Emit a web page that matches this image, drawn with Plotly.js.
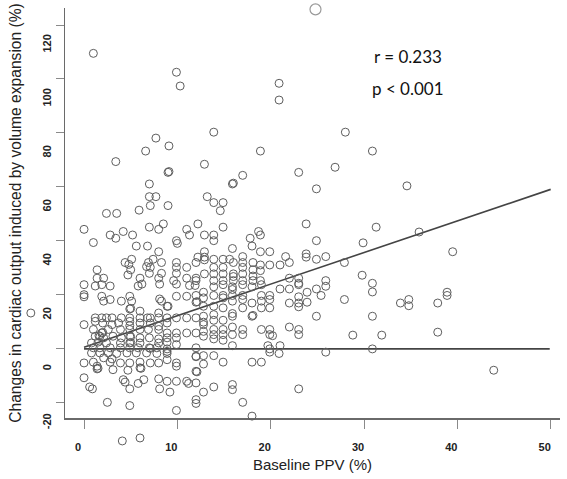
<!DOCTYPE html>
<html>
<head>
<meta charset="utf-8">
<script src="https://cdn.plot.ly/plotly-3.0.1.min.js"></script>
<style>html,body{margin:0;padding:0;background:#fff;}#chart{width:567px;height:479px;}</style>
</head>
<body>
<div id="chart"></div>
<script>
// Baseline PPV (%) values of the patients
const ppv = [
  1.0,9.9,10.3,7.7,9.1,6.6,13.9,20.9,20.9,28.0,18.9,30.9,
  3.4,9.0,9.1,7.0,7.0,7.7,7.1,9.0,2.4,3.5,5.9,12.2,0.0,7.0,8.0,8.5,11.0,11.3,1.0,2.8,3.4,4.2,5.2,9.9,10.0,5.6,6.8,8.0,4.4,5.1,4.8,6.9,7.4,8.3,9.9,12.0,12.2,6.7,7.1,9.9,11.0,1.4,5.0,7.0,8.3,9.9,4.7,1.4,2.1,6.0,8.0,11.0,12.0,12.0,9.6,
  12.9,17.0,23.0,26.9,15.9,16.0,24.9,13.2,13.9,14.9,14.6,14.9,23.8,12.9,13.9,13.9,18.7,18.9,17.8,24.9,18.0,15.9,18.9,19.9,12.9,12.9,12.9,13.9,14.9,15.6,17.0,16.0,17.0,18.1,18.9,19.9,21.0,21.6,22.0,23.8,23.8,24.9,25.9,13.9,14.9,17.0,18.1,18.9,12.9,13.9,14.9,16.0,17.0,18.1,16.0,13.9,14.9,16.0,17.0,18.1,18.9,22.0,23.0,23.0,25.9,
  34.6,31.3,35.9,29.9,39.5,27.9,29.8,30.9,
  30.9,27.9,33.9,34.8,34.8,37.9,38.9,38.9,30.9,28.8,31.9,37.9,30.9,43.9,
  13.9,14.9,15.9,17.0,18.0,19.0,21.0,22.0,23.0,24.9,25.9,12.8,12.8,13.9,14.9,14.9,15.9,15.9,15.9,17.0,17.0,18.0,19.0,19.0,19.9,19.9,23.0,23.0,23.0,23.9,23.9,25.4,13.9,14.9,17.0,19.0,19.9,22.0,12.8,13.9,15.9,15.9,18.0,18.1,12.8,24.9,12.8,12.8,13.9,14.9,13.9,14.9,15.9,17.0,19.0,19.9,22.0,23.0,12.8,12.8,13.9,13.9,14.9,14.9,15.9,17.0,19.9,20.2,23.0,15.9,19.7,21.0,19.9,19.9,20.9,25.9,12.8,13.9,12.8,14.9,18.0,19.0,12.8,13.9,15.9,15.9,23.0,17.0,18.0,
  0.0,1.2,1.9,2.8,5.8,6.2,8.1,9.9,11.3,11.9,
  0.0,0.0,1.9,2.8,4.9,8.1,9.9,11.0,12.0,
  2.1,4.0,5.1,8.3,9.0,12.0,12.1,
  4.9,5.0,6.0,8.0,8.9,
  1.2,1.9,2.4,3.0,4.0,4.9,6.0,6.8,7.1,8.0,8.9,9.9,11.0,12.0,
  0.0,1.2,2.0,3.0,3.7,4.9,4.9,6.0,7.1,8.0,8.9,
  1.0,1.9,2.0,2.6,3.9,4.9,6.0,6.9,8.0,8.9,9.9,11.0,12.0,
  1.2,1.6,1.7,2.1,3.1,4.0,4.9,5.0,6.0,7.0,8.0,8.9,9.9,
  0.8,1.5,2.4,3.9,4.9,5.0,6.0,8.0,8.9,9.9,
  1.0,1.7,2.8,3.9,4.9,5.8,7.0,7.1,7.8,8.9,8.9,8.9,12.0,
  0.8,1.7,2.6,3.5,4.6,5.6,6.7,7.8,
  0.0,1.0,1.4,1.4,1.5,2.1,2.8,3.0,3.9,4.9,6.0,6.0,6.1,7.1,8.0,8.9,9.9,9.9,12.0,12.0,
  4.7,3.1,12.0,12.1,
  0.0,0.6,0.9,4.2,4.4,5.8,6.4,4.9,8.0,8.1,8.9,9.9,11.0,11.2,12.0,9.2,
  2.5,4.9,12.0,12.0,9.9,
  4.1,6.0,-5.7
];
// Change in cardiac output induced by volume expansion (%)
const coChange = [
  109.5,102.5,97.4,78.1,75.2,73.3,80.3,98.4,92.2,80.3,73.3,73.3,
  69.4,65.4,65.7,61.1,56.4,56.4,53.1,53.1,50.2,50.2,51.4,46.3,44.3,45.1,44.3,46.3,44.3,42.2,39.4,42.2,41.0,43.5,42.2,40.1,39.1,38.1,38.1,36.0,32.0,33.2,31.3,32.0,33.2,32.0,32.0,32.0,34.0,30.5,30.2,30.2,30.2,29.3,29.3,28.0,28.0,28.0,27.4,26.2,26.2,26.2,26.2,26.2,26.2,25.3,25.3,
  68.4,64.3,65.4,67.3,61.1,61.4,59.3,56.4,54.2,54.2,51.2,45.1,46.3,42.2,42.2,40.1,43.5,42.2,41.0,40.1,38.1,37.2,36.0,36.0,36.0,34.0,33.0,33.2,33.2,33.2,34.2,32.0,32.0,32.0,31.1,31.1,31.1,34.2,32.0,35.2,34.0,33.2,34.2,30.2,30.2,30.2,29.3,29.0,27.8,27.8,27.8,27.8,27.8,27.0,26.8,25.3,25.3,25.3,25.3,25.3,25.3,26.2,26.2,24.3,25.3,
  60.4,45.1,43.3,39.3,36.0,32.0,27.3,24.3,
  21.1,18.3,17.0,18.3,16.0,17.0,21.0,19.8,12.1,5.1,5.1,6.2,0.0,-7.9,
  23.0,23.8,23.0,23.8,23.0,23.8,22.2,22.2,23.8,22.2,23.2,21.0,18.9,19.8,19.8,18.9,22.0,19.8,17.7,19.8,18.3,17.0,19.8,17.7,19.8,18.3,19.3,17.0,15.6,21.0,17.3,19.8,15.8,15.2,15.2,15.2,15.2,17.0,15.8,12.7,13.1,12.1,12.1,12.4,12.1,12.1,9.9,9.0,10.6,10.6,7.2,7.2,8.1,7.2,7.2,7.2,8.1,7.2,6.5,4.7,5.3,3.7,5.3,3.2,5.3,5.3,5.3,4.9,5.3,1.2,1.2,1.2,0.0,-1.2,-1.7,-1.2,-2.5,-2.5,-5.6,-4.9,-4.9,-4.9,-16.0,-14.1,-13.2,-15.1,-14.8,-19.8,-24.9,
  23.8,23.3,23.8,23.3,23.3,24.0,24.0,24.0,23.5,23.5,
  20.1,19.3,19.5,18.3,19.5,18.5,19.5,19.5,19.8,
  17.7,17.7,17.7,17.7,15.8,17.3,17.5,
  14.8,15.0,14.0,13.3,15.8,
  11.5,11.5,11.5,11.5,11.5,11.5,11.5,11.5,11.5,11.5,11.5,11.5,11.5,11.5,
  9.0,10.2,9.6,9.0,9.6,10.2,8.6,9.6,9.6,8.4,9.6,
  7.2,5.9,6.1,7.2,7.2,7.2,7.2,7.2,7.2,5.9,5.9,5.9,5.9,
  4.7,4.9,4.6,4.1,4.7,4.1,4.7,4.5,4.1,4.1,3.7,4.1,4.1,
  2.2,2.5,2.2,2.2,2.2,2.4,2.2,2.2,2.5,1.6,
  0.4,0.4,0.4,0.4,0.4,0.4,0.4,0.2,0.4,0.0,-0.9,-1.7,0.4,
  -1.5,-1.5,-1.5,-1.7,-1.5,-1.5,-1.5,-1.7,
  -5.2,-4.9,-6.4,-7.4,-7.2,-3.3,-4.9,-3.7,-5.2,-5.2,-4.9,-7.0,-7.2,-5.2,-5.2,-4.0,-5.2,-6.4,-2.7,-2.9,
  -7.9,-7.7,-8.3,-8.5,
  -10.7,-14.1,-14.8,-11.4,-12.3,-12.8,-11.4,-14.8,-11.1,-14.8,-12.0,-12.0,-12.0,-12.8,-12.6,-16.0,
  -19.8,-21.0,-18.8,-20.2,-22.8,
  -34.1,-33.0,13.3
];
// faint larger circle at the top of the plot
const ppvFaint = [24.8];
const coFaint = [125.8];

const fitIntercept = 0.6;
const fitSlope = 1.17;
const fitRangeX = [0, 50];
const zeroLineX = [0, 49.9];
const zeroLineY = [0, 0];

const xTicks = [0, 10, 20, 30, 40, 50];
const yTicks = [-20, 0, 20, 40, 60, 80, 100, 120];
const statsText = ["r = 0.233", "p < 0.001"];
const statsPos = {x: 34.7, y: [108.5, 96.3]};

// ---- geometry: drawn axes sit inside a wider, invisible data frame so that
// the few points lying outside the axes (as in the original) remain visible
const W = 567, H = 479;
const margin = {l: 20, r: 7, t: 2, b: 30};
const pw = W - margin.l - margin.r, ph = H - margin.t - margin.b;
const xRange = [-2.04, 51.0], yRange = [-25.6, 126.3];
const xDom = [45 / pw, 1];
const yDom = [31 / ph, (ph - 6) / ph];
const sx = (xRange[1] - xRange[0]) / ((xDom[1] - xDom[0]) * pw);
const sy = (yRange[1] - yRange[0]) / ((yDom[1] - yDom[0]) * ph);
const x2Range = [xRange[0] - xDom[0] * pw * sx, xRange[1] + (1 - xDom[1]) * pw * sx];
const y2Range = [yRange[0] - yDom[0] * ph * sy, yRange[1] + (1 - yDom[1]) * ph * sy];

const grey = '#5e5e5e';
const traces = [
  {x: zeroLineX, y: zeroLineY, xaxis: 'x', yaxis: 'y', type: 'scatter', mode: 'lines',
   line: {color: '#444', width: 1.6}, hoverinfo: 'skip'},
  {x: fitRangeX, y: fitRangeX.map(v => fitIntercept + fitSlope * v), xaxis: 'x', yaxis: 'y',
   type: 'scatter', mode: 'lines', line: {color: '#444', width: 1.6}, hoverinfo: 'skip'},
  {x: ppv, y: coChange, xaxis: 'x2', yaxis: 'y2', type: 'scatter', mode: 'markers', cliponaxis: false,
   marker: {symbol: 'circle-open', size: 8, color: grey, line: {width: 1, color: grey}}, hoverinfo: 'skip'},
  {x: ppvFaint, y: coFaint, xaxis: 'x2', yaxis: 'y2', type: 'scatter', mode: 'markers', cliponaxis: false,
   marker: {symbol: 'circle-open', size: 11, color: '#9a9a9a', line: {width: 1.2, color: '#9a9a9a'}}, hoverinfo: 'skip'}
];

const tickFont = {family: 'Liberation Sans, Arial, sans-serif', size: 11, color: '#222', weight: 'bold'};
const titleFont = {family: 'Liberation Sans, Arial, sans-serif', size: 15, color: '#222'};

const layout = {
  width: W, height: H,
  margin: margin,
  paper_bgcolor: '#fff', plot_bgcolor: 'rgba(0,0,0,0)',
  showlegend: false,
  xaxis: {
    domain: xDom, anchor: 'y',
    range: xRange, tickmode: 'array', tickvals: xTicks, ticktext: xTicks.map(String),
    ticks: 'outside', ticklen: 9, tickwidth: 1, tickcolor: '#8a8a8a',
    ticklabelstandoff: 9, ticklabelshift: -6,
    showline: true, linecolor: '#6a6a6a', linewidth: 1.5, showgrid: false, zeroline: false,
    tickfont: tickFont,
    title: {text: 'Baseline PPV (%)', font: titleFont, standoff: 8}
  },
  yaxis: {
    domain: yDom, anchor: 'x',
    range: yRange, tickmode: 'array', tickvals: yTicks, ticktext: yTicks.map(String),
    ticks: 'outside', ticklen: 8, tickwidth: 1, tickcolor: '#8a8a8a', tickangle: -90,
    ticklabelshift: 20,
    showline: true, linecolor: '#6a6a6a', linewidth: 1.5, showgrid: false, zeroline: false,
    tickfont: tickFont,
    title: {text: 'Changes in cardiac output induced by volume expansion (%)',
            font: {family: titleFont.family, size: 15.6, color: '#222'}, standoff: 15}
  },
  xaxis2: {domain: [0, 1], anchor: 'y2', range: x2Range, visible: false, fixedrange: true},
  yaxis2: {domain: [0, 1], anchor: 'x2', range: y2Range, visible: false, fixedrange: true},
  annotations: statsText.map((t, i) => ({
    x: statsPos.x, y: statsPos.y[i], xref: 'x', yref: 'y', text: t, showarrow: false,
    font: {family: 'Lato, Carlito, sans-serif', size: 17, color: '#111'}
  }))
};

Plotly.newPlot('chart', traces, layout, {displayModeBar: false, staticPlot: true});
</script>
</body>
</html>
